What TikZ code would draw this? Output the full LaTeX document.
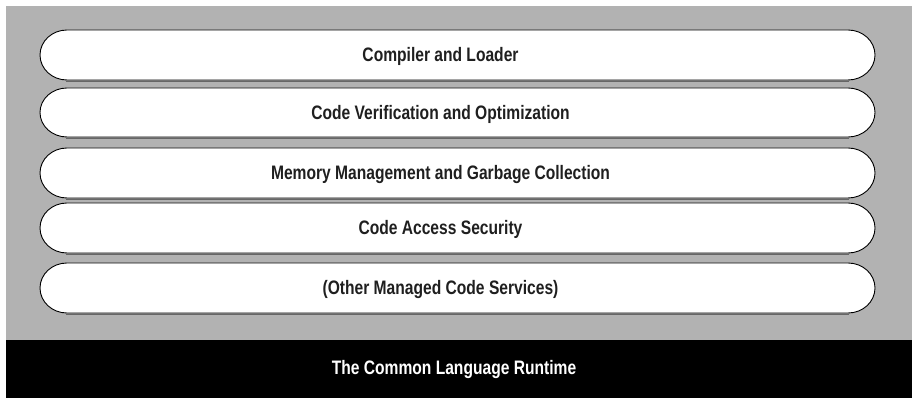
\documentclass[tikz,border=0pt]{standalone}
\usepackage{fontspec}
\setmainfont{Liberation Sans}[FakeStretch=0.80]
\begin{document}
\begin{tikzpicture}[x=1pt,y=-1pt,
  lbl/.style={font=\fontsize{19.5}{22}\selectfont\bfseries, text=black!88, inner sep=0pt},
  pillline/.style={draw=black, line width=0.9pt, fill=white},
  shadowline/.style={draw=black!60, line width=1.4pt}]
\useasboundingbox (0,0) rectangle (919,403);
\fill[white] (0,0) rectangle (919,403);
\fill[black!30] (6,6) rectangle (912,340);
\fill[black] (6,340) rectangle (912,398);
\foreach \t/\b/\name/\txt in {
  30/80/p1/{Compiler and Loader},
  88/137/p2/{Code Verification and Optimization},
  148/198/p3/{Memory Management and Garbage Collection},
  203/253/p4/{Code Access Security},
  263/313/p5/{(Other Managed Code Services)}}{
  \pgfmathsetmacro{\ry}{(\b-\t)/2}
  \draw[shadowline] (66,\b+1.5) -- (849,\b+1.5);
  \draw[pillline] (67,\t) -- (848,\t)
     arc[start angle=-90, end angle=90, x radius=27, y radius=\ry]
     -- (67,\b)
     arc[start angle=90, end angle=270, x radius=27, y radius=\ry] -- cycle;
  \node[lbl] (\name) at (440.5,{(\t+\b)/2+1.5}) {\txt};
}
\node[lbl, text=white] (clr) at (454,370) {The Common Language Runtime};
\end{tikzpicture}
\end{document}
